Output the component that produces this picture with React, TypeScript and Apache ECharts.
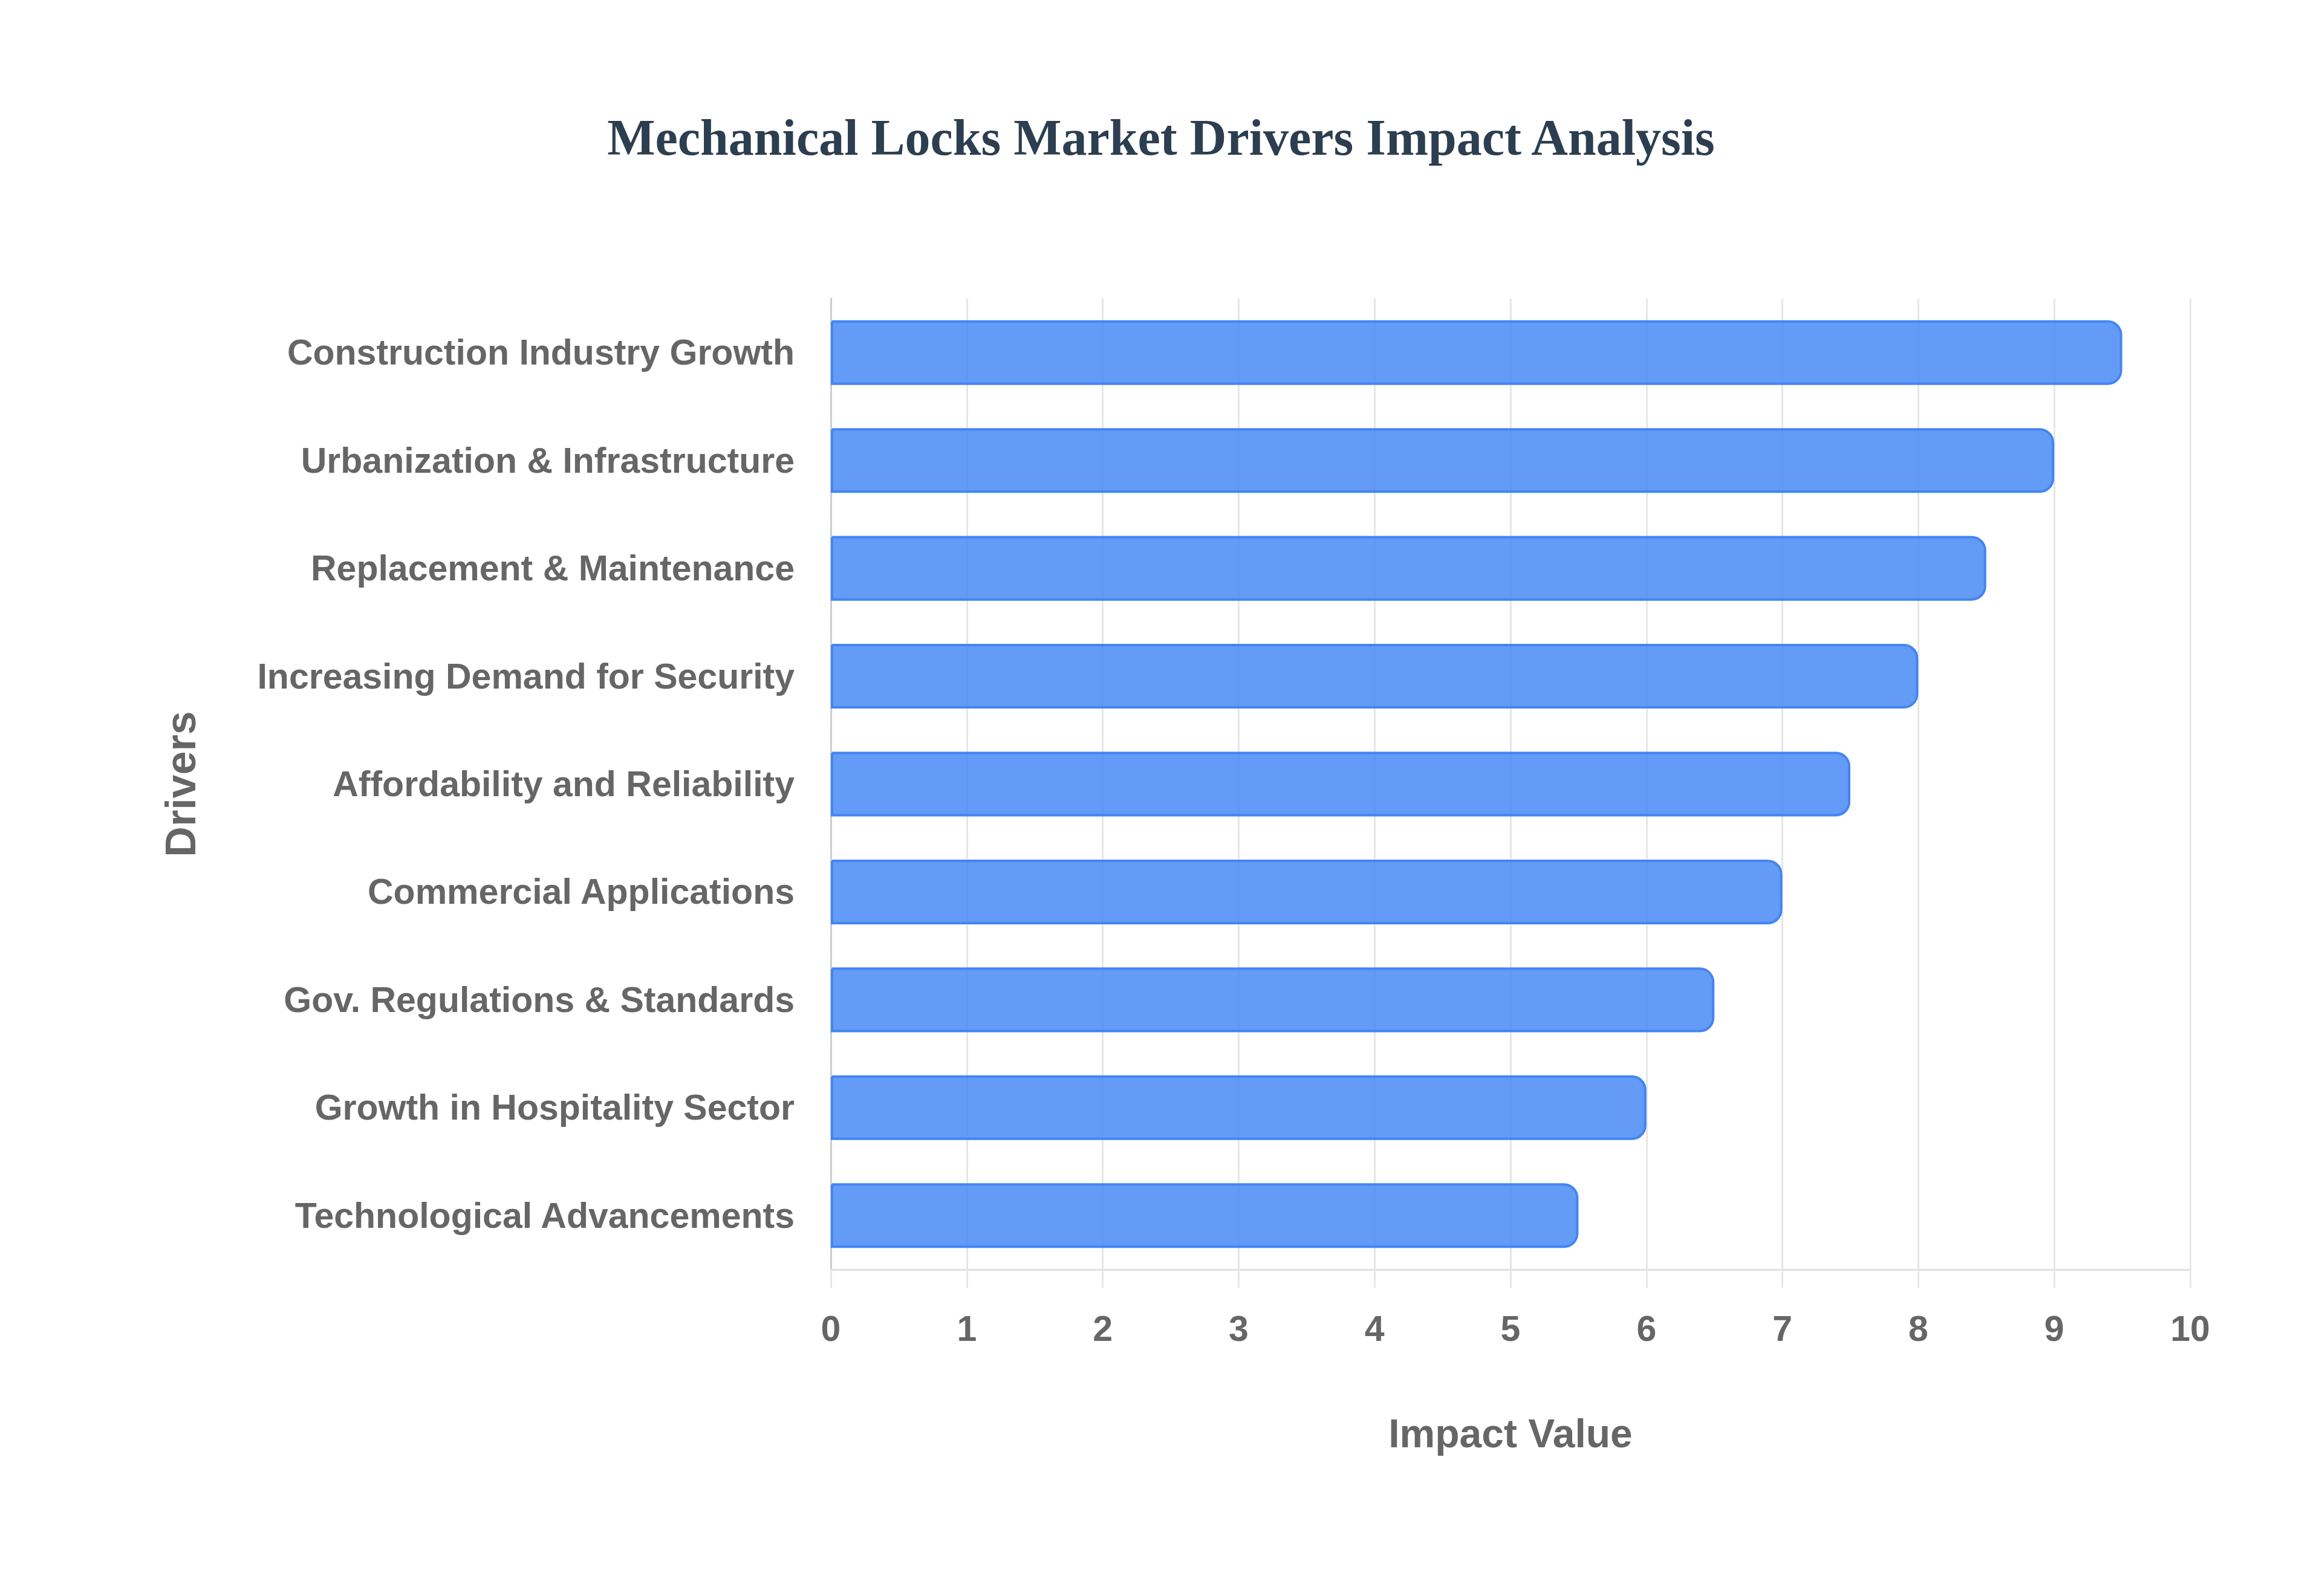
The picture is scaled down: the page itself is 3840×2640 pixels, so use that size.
import React, { useEffect, useRef } from 'react';
import * as echarts from 'echarts';

const drivers = [
  'Construction Industry Growth',
  'Urbanization & Infrastructure',
  'Replacement & Maintenance',
  'Increasing Demand for Security',
  'Affordability and Reliability',
  'Commercial Applications',
  'Gov. Regulations & Standards',
  'Growth in Hospitality Sector',
  'Technological Advancements',
];
const impactValues = [9.5, 9, 8.5, 8, 7.5, 7, 6.5, 6, 5.5];

const SANS = "'Liberation Sans', Arial, sans-serif";

const App: React.FC = () => {
  const chartRef = useRef<HTMLDivElement>(null);

  useEffect(() => {
    const chart = echarts.init(chartRef.current!, undefined, { renderer: 'svg' });

    chart.setOption({
      animation: false,
      backgroundColor: '#ffffff',
      title: {
        text: 'Mechanical Locks Market Drivers Impact Analysis',
        left: 'center',
        top: 180,
        textStyle: {
          fontFamily: "'Liberation Serif', 'Times New Roman', serif",
          fontWeight: 'bold',
          fontSize: 84,
          color: '#2c3e50',
        },
      },
      grid: { left: 1374, right: 218, top: 494, bottom: 540, containLabel: false },
      xAxis: {
        type: 'value',
        min: 0,
        max: 10,
        interval: 1,
        name: 'Impact Value',
        nameLocation: 'middle',
        nameGap: 238,
        nameTextStyle: { fontFamily: SANS, fontWeight: 'bold', fontSize: 66, color: '#666666' },
        axisLine: { show: true, lineStyle: { color: '#e0e0e0', width: 3 } },
        axisTick: { show: true, length: 30, lineStyle: { color: '#e6e6e6', width: 3 } },
        axisLabel: { margin: 68, fontFamily: SANS, fontWeight: 'bold', fontSize: 59, color: '#666666' },
        splitLine: { show: true, lineStyle: { color: '#e6e6e6', width: 3 } },
      },
      yAxis: {
        type: 'category',
        inverse: true,
        data: drivers,
        name: 'Drivers',
        nameLocation: 'middle',
        nameGap: 1040,
        nameRotate: 90,
        nameTextStyle: { fontFamily: SANS, fontWeight: 'bold', fontSize: 70, color: '#666666' },
        axisLine: { show: true, lineStyle: { color: '#cccccc', width: 3 } },
        axisTick: { show: false },
        axisLabel: { margin: 60, fontFamily: SANS, fontWeight: 'bold', fontSize: 59, color: '#666666' },
        splitLine: { show: false },
      },
      series: [
        {
          type: 'bar',
          data: impactValues,
          barCategoryGap: '40%',
          itemStyle: {
            color: 'rgba(66, 133, 244, 0.82)',
            borderColor: '#4285f4',
            borderWidth: 4,
            borderRadius: [0, 22, 22, 0],
          },
        },
      ],
    });

    return () => {
      chart.dispose();
    };
  }, []);

  return (
    <div
      ref={chartRef}
      style={{ position: 'absolute', left: 0, top: 0, width: '3840px', height: '2640px' }}
    />
  );
};

export default App;
